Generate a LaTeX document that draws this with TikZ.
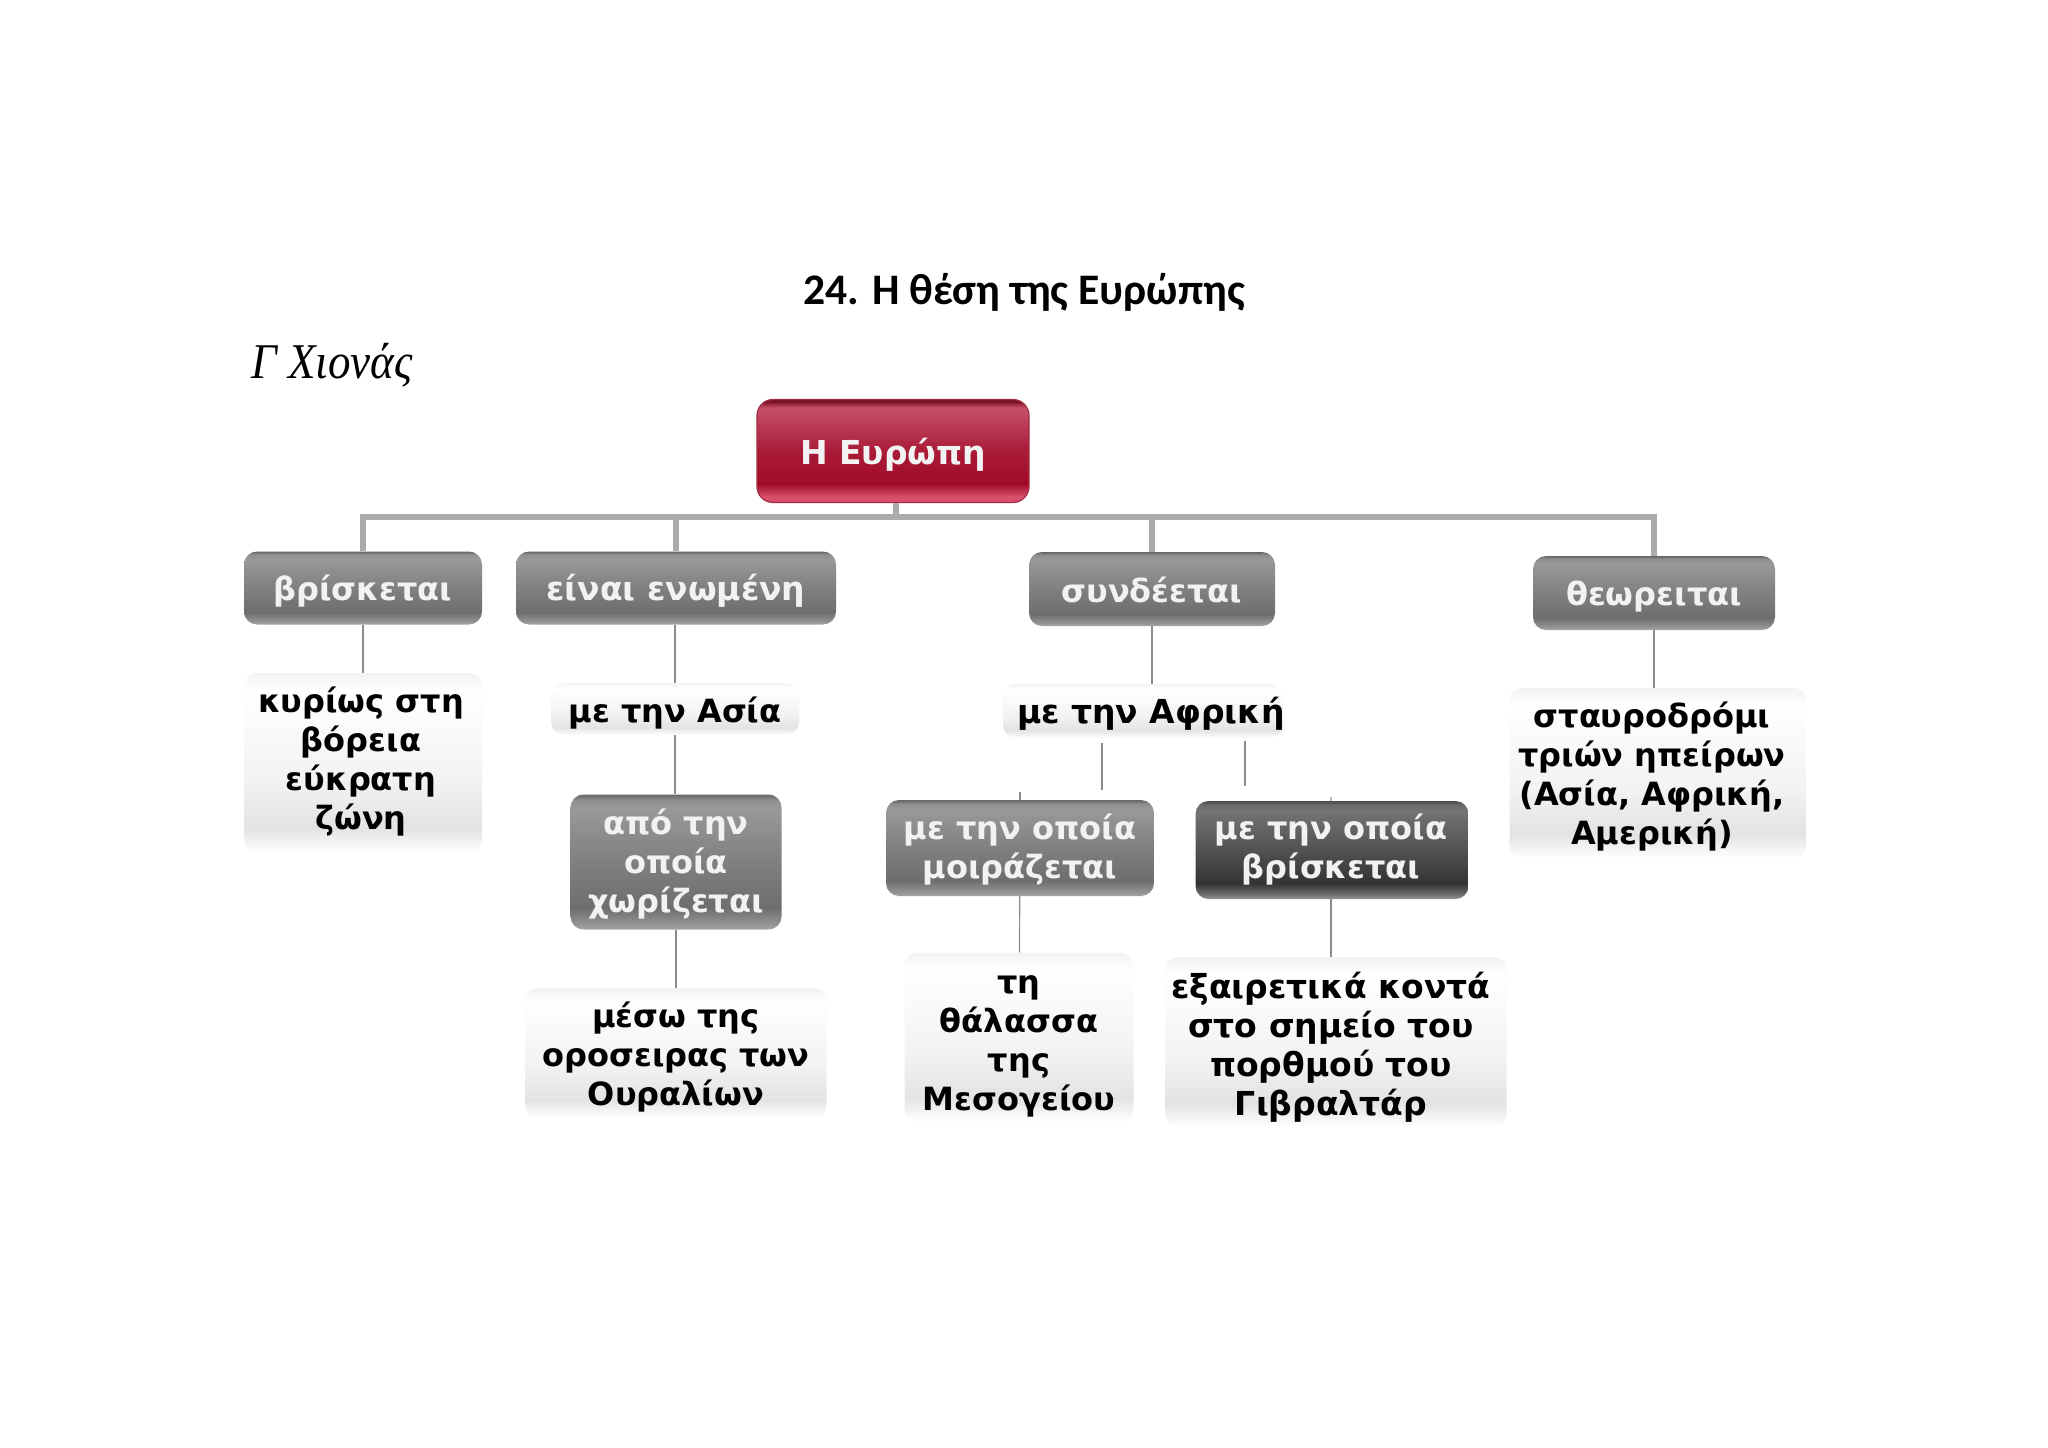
\documentclass[tikz,border=0pt]{standalone}
\usepackage{fontspec}
\setmainfont{DejaVu Sans}
\newfontfamily\titlefont{Carlito}
\newfontfamily\signfont{Liberation Serif}
\pgfdeclareverticalshading{greyshade}{100bp}{color(0bp)=(black!35);color(25bp)=(black!35);color(27bp)=(black!42);color(33bp)=(black!57);color(50bp)=(black!50);color(70bp)=(black!40);color(73bp)=(black!44);color(75bp)=(black!60);color(100bp)=(black!60)}
\pgfdeclareverticalshading{darkshade}{100bp}{color(0bp)=(black!40);color(25bp)=(black!40);color(27bp)=(black!55);color(33bp)=(black!80);color(50bp)=(black!68);color(70bp)=(black!55);color(73bp)=(black!58);color(75bp)=(black!70);color(100bp)=(black!70)}
\definecolor{rootlo}{HTML}{A00A28}
\definecolor{roothi}{HTML}{C65068}
\definecolor{rootedge}{HTML}{7A1022}
\definecolor{rootpink}{HTML}{D8506C}
\pgfdeclareverticalshading{rootshade}{100bp}{color(0bp)=(rootpink);color(25bp)=(rootpink);color(28bp)=(rootpink);color(34bp)=(rootlo);color(50bp)=(rootlo!75!roothi);color(71bp)=(roothi);color(74bp)=(rootedge);color(75bp)=(rootedge);color(100bp)=(rootedge)}
\pgfdeclareverticalshading{paleshade}{100bp}{color(0bp)=(white);color(25bp)=(white);color(32bp)=(black!11);color(45bp)=(black!5);color(70bp)=(white);color(75bp)=(black!5);color(100bp)=(black!5)}
\tikzset{
  boxbase/.style={rectangle,rounded corners=13pt,inner sep=0pt},
  greybox/.style={boxbase,shading=greyshade},
  darkbox/.style={boxbase,shading=darkshade},
  rootbox/.style={boxbase,shading=rootshade,rounded corners=16pt,draw=rootedge!55!rootpink,line width=1.2pt},
  palebox/.style={boxbase,shading=paleshade},
  lighttext/.style={text=white!95!black},
  darktext/.style={text=black},
  labeltext/.style={inner sep=0pt,align=center,font=\fontsize{32}{39}\selectfont\bfseries},
  widetext/.style={font=\fontsize{33}{39}\selectfont\bfseries},
  trunk/.style={draw=black!33,line width=6pt},
  twig/.style={draw=black!45,line width=1.2pt},
}
% style, name, centre, width, height, text styles, text offset, text
\newcommand{\boxat}[8]{%
  \node[#1,minimum width=#4 pt,minimum height=#5 pt] (#2) at (#3) {};
  \node[labeltext,#6] (#2-text) at ([shift={(#7)}]#2.center) {#8};
}
\begin{document}
\begin{tikzpicture}[x=1pt,y=-1pt]
\useasboundingbox[fill=white] (0,0) rectangle (2048,1448);
\node[font=\titlefont\fontsize{43.6}{50}\selectfont\bfseries] (title) at (1024,292) {24. Η θέση της Ευρώπης};
\node[font=\signfont\fontsize{50}{60}\selectfont\itshape,xscale=0.9] (sign) at (332,365) {Γ Χιονάς};
\coordinate (barmid) at (896,517);
\coordinate (mshare) at (1020,792);
\coordinate (mfind) at (1331,797);
\coordinate (afra) at (1102,743);
\coordinate (afrb) at (1102,790);
\coordinate (afrc) at (1245,741);
\coordinate (afrd) at (1245,786);
\boxat{rootbox}{root}{893,451}{272}{103}{lighttext,widetext}{0,4}{Η Ευρώπη}
\boxat{greybox}{lfind}{363,588}{238}{73}{lighttext}{0,3}{βρίσκεται}
\boxat{greybox}{lunit}{676,588}{320}{73}{lighttext,widetext}{0,3}{είναι ενωμένη}
\boxat{greybox}{lconn}{1152,589}{246}{74}{lighttext}{0,1}{συνδέεται}
\boxat{greybox}{lcons}{1654,593}{242}{74}{lighttext}{0,4}{θεωρειται}
\boxat{palebox}{pzone}{363,763}{238}{180}{darktext}{-2,-1}{κυρίως στη\\βόρεια\\εύκρατη\\ζώνη}
\boxat{palebox}{pasia}{675,709}{248}{52}{darktext}{0,4}{με την Ασία}
\boxat{palebox}{pafr}{1143,711}{280}{54}{darktext,widetext}{8,3}{με την Αφρική}
\boxat{palebox}{pcross}{1658,773}{297}{170}{darktext}{-6,4}{σταυροδρόμι\\τριών ηπείρων\\(Ασία, Αφρική,\\Αμερική)}
\boxat{greybox}{gsep}{676,862}{211}{135}{lighttext}{0,2}{από την\\οποία\\χωρίζεται}
\boxat{greybox}{gshare}{1020,848}{268}{96}{lighttext}{0,2}{με την οποία\\μοιράζεται}
\boxat{darkbox}{gfind}{1332,850}{273}{98}{lighttext}{-1,0}{με την οποία\\βρίσκεται}
\boxat{palebox}{pural}{676,1053}{301}{130}{darktext}{0,4}{μέσω της\\οροσειρας των\\Ουραλίων}
\boxat{palebox}{psea}{1019,1037}{229}{169}{darktext}{0,9}{τη\\θάλασσα\\της\\Μεσογείου}
\boxat{palebox}{pgib}{1336,1042}{341}{170}{darktext,widetext}{-5,5}{εξαιρετικά κοντά\\στο σημείο του\\πορθμού του\\Γιβραλτάρ}
\draw[trunk] (root.south -| barmid) -- (barmid);
\draw[trunk] (lfind.north) -- (lfind.north |- barmid) -- (lcons.north |- barmid) -- (lcons.north);
\draw[trunk] (lunit.north) -- (lunit.north |- barmid);
\draw[trunk] (lconn.north) -- (lconn.north |- barmid);
\draw[twig] (lfind) -- (pzone);
\draw[twig] (lunit.south -| pasia.north) -- (pasia);
\draw[twig] (pasia) -- (pasia |- gsep.north);
\draw[twig] (pural.north |- gsep.south) -- (pural);
\draw[twig] (lconn) -- (pafr.north -| lconn.south);
\draw[twig] (afra) -- (afrb);
\draw[twig] (afrc) -- (afrd);
\draw[twig] (mshare) -- (gshare);
\draw[twig] (mfind) -- (gfind);
\draw[twig] (gshare) -- (psea);
\draw[twig] (gfind.south -| 1331,0) -- (pgib.north -| 1331,0);
\draw[twig] (lcons) -- (pcross.north -| lcons.south);
\end{tikzpicture}
\end{document}
